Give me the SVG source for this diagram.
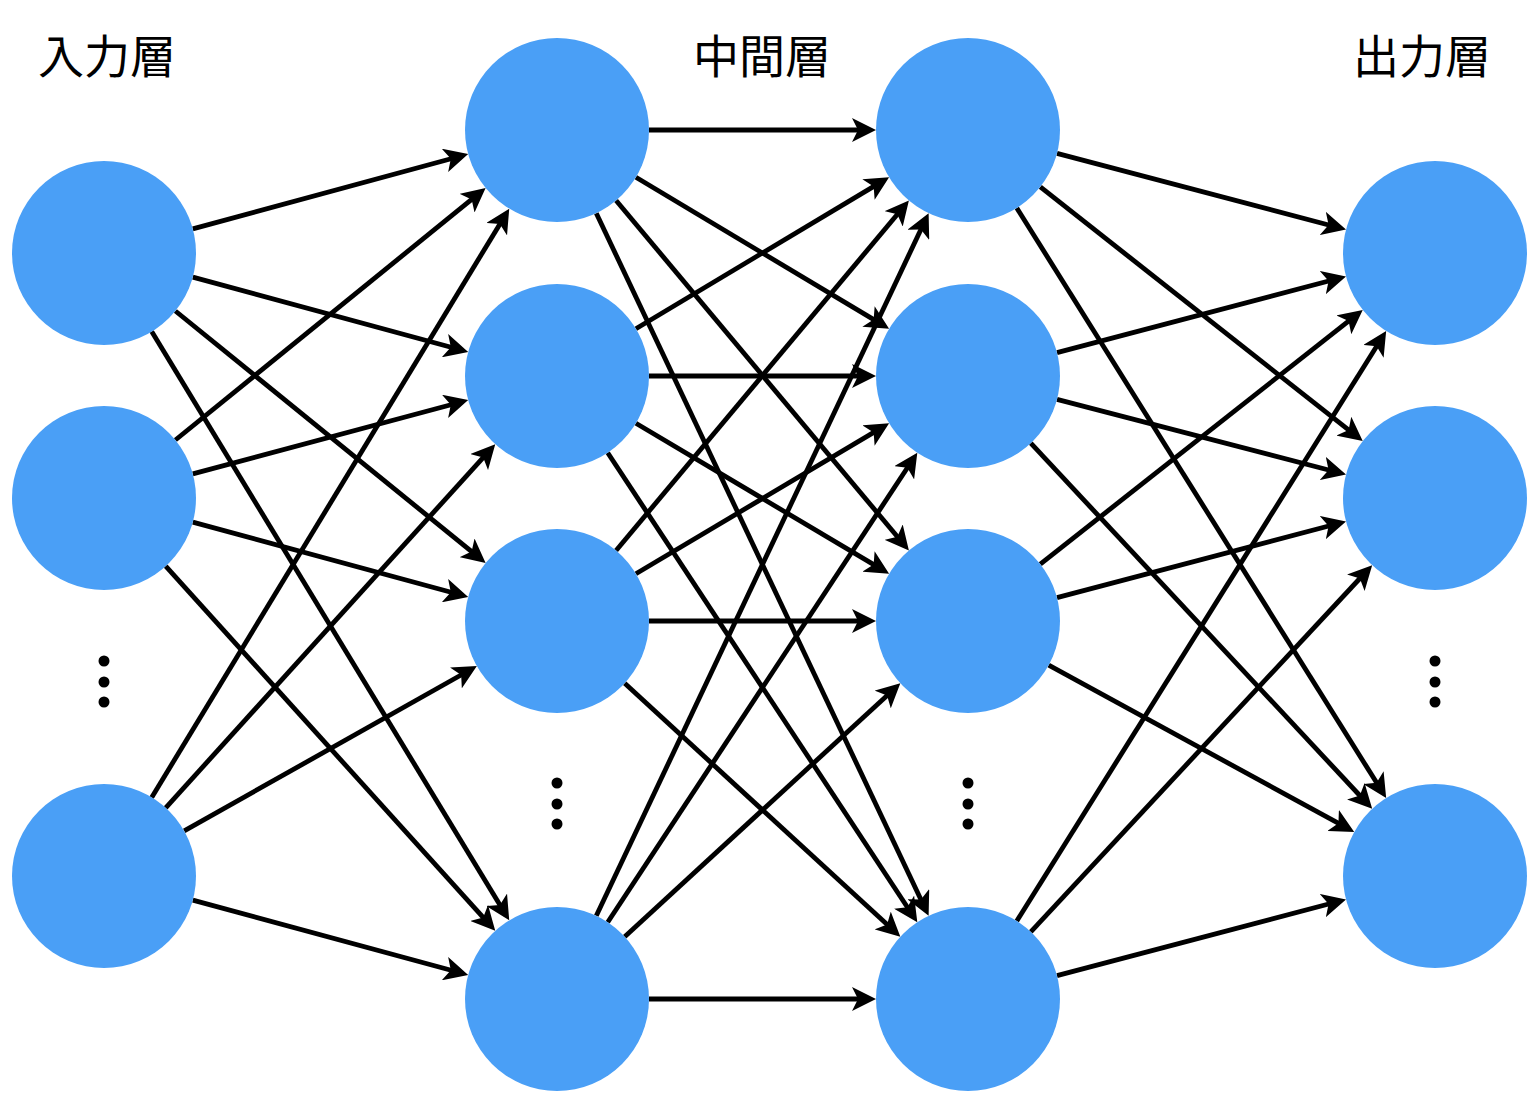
<svg xmlns="http://www.w3.org/2000/svg" width="1536" height="1096" viewBox="0 0 1536 1096">
<style>
.node{fill:#4A9FF6}
.lbl{font-family:"Noto Sans CJK JP","Noto Sans",sans-serif;font-size:46px;fill:#000;text-anchor:middle}
.e{stroke:#000;stroke-width:4.8;fill:none;marker-end:url(#ah)}
.dot{fill:#000}
</style>
<defs>
<marker id="ah" viewBox="0 0 24 24" refX="12" refY="12" markerWidth="24" markerHeight="24" markerUnits="userSpaceOnUse" orient="auto">
<path d="M0,0 L24,12 L0,24 L6,12 Z" fill="#000"/>
</marker>
</defs>
<rect width="1536" height="1096" fill="#fff"/>
<g id="labels">
<text class="lbl" x="107" y="73">入力層</text>
<text class="lbl" x="762" y="73">中間層</text>
<text class="lbl" x="1422" y="73">出力層</text>
</g>
<g id="connectors">
<line class="e" x1="192.8" y1="228.9" x2="456.6" y2="157.2"/>
<line class="e" x1="192.8" y1="277.1" x2="456.6" y2="348.8"/>
<line class="e" x1="175.4" y1="311.0" x2="476.3" y2="555.4"/>
<line class="e" x1="151.7" y1="331.6" x2="503.0" y2="910.1"/>
<line class="e" x1="175.4" y1="440.0" x2="476.3" y2="195.6"/>
<line class="e" x1="192.8" y1="473.9" x2="456.6" y2="403.2"/>
<line class="e" x1="192.8" y1="522.1" x2="456.6" y2="593.8"/>
<line class="e" x1="165.7" y1="566.2" x2="487.2" y2="921.9"/>
<line class="e" x1="151.7" y1="797.4" x2="503.0" y2="218.9"/>
<line class="e" x1="165.7" y1="807.8" x2="487.2" y2="453.1"/>
<line class="e" x1="184.2" y1="830.9" x2="466.4" y2="672.0"/>
<line class="e" x1="192.8" y1="900.1" x2="456.6" y2="971.8"/>

<line class="e" x1="649" y1="130" x2="864" y2="130"/>
<line class="e" x1="635.9" y1="177.3" x2="878.8" y2="322.6"/>
<line class="e" x1="616.1" y1="200.5" x2="901.2" y2="541.3"/>
<line class="e" x1="596.3" y1="213.2" x2="923.5" y2="905.0"/>
<line class="e" x1="635.9" y1="328.7" x2="878.8" y2="183.4"/>
<line class="e" x1="649" y1="376" x2="864" y2="376"/>
<line class="e" x1="635.9" y1="423.3" x2="878.8" y2="567.6"/>
<line class="e" x1="607.7" y1="452.8" x2="910.7" y2="912.2"/>
<line class="e" x1="616.1" y1="550.5" x2="901.2" y2="209.7"/>
<line class="e" x1="635.9" y1="573.7" x2="878.8" y2="429.4"/>
<line class="e" x1="649" y1="621" x2="864" y2="621"/>
<line class="e" x1="624.7" y1="683.3" x2="891.5" y2="928.6"/>
<line class="e" x1="596.3" y1="915.8" x2="923.5" y2="224.0"/>
<line class="e" x1="607.7" y1="922.2" x2="910.7" y2="462.8"/>
<line class="e" x1="624.7" y1="936.7" x2="891.5" y2="691.4"/>
<line class="e" x1="649" y1="999" x2="864" y2="999"/>

<line class="e" x1="1057" y1="153.4" x2="1334.4" y2="226.5"/>
<line class="e" x1="1040.3" y1="186.9" x2="1353.3" y2="433.6"/>
<line class="e" x1="1016.8" y1="208.0" x2="1379.8" y2="787.8"/>
<line class="e" x1="1057" y1="352.6" x2="1334.4" y2="279.5"/>
<line class="e" x1="1057" y1="399.4" x2="1334.4" y2="471.5"/>
<line class="e" x1="1030.8" y1="443.2" x2="1364.0" y2="800.0"/>
<line class="e" x1="1040.3" y1="564.1" x2="1353.3" y2="317.4"/>
<line class="e" x1="1057" y1="597.6" x2="1334.4" y2="524.5"/>
<line class="e" x1="1048.7" y1="665.1" x2="1343.7" y2="826.2"/>
<line class="e" x1="1016.8" y1="921.0" x2="1379.8" y2="341.2"/>
<line class="e" x1="1030.8" y1="931.8" x2="1364.0" y2="574.0"/>
<line class="e" x1="1057" y1="975.6" x2="1334.4" y2="902.5"/>
</g>
<g id="input-1"><circle class="node" cx="104" cy="253" r="92"/></g>
<g id="input-2"><circle class="node" cx="104" cy="498" r="92"/></g>
<g id="input-3"><circle class="node" cx="104" cy="876" r="92"/></g>
<g id="hidden1-1"><circle class="node" cx="557" cy="130" r="92"/></g>
<g id="hidden1-2"><circle class="node" cx="557" cy="376" r="92"/></g>
<g id="hidden1-3"><circle class="node" cx="557" cy="621" r="92"/></g>
<g id="hidden1-4"><circle class="node" cx="557" cy="999" r="92"/></g>
<g id="hidden2-1"><circle class="node" cx="968" cy="130" r="92"/></g>
<g id="hidden2-2"><circle class="node" cx="968" cy="376" r="92"/></g>
<g id="hidden2-3"><circle class="node" cx="968" cy="621" r="92"/></g>
<g id="hidden2-4"><circle class="node" cx="968" cy="999" r="92"/></g>
<g id="output-1"><circle class="node" cx="1435" cy="253" r="92"/></g>
<g id="output-2"><circle class="node" cx="1435" cy="498" r="92"/></g>
<g id="output-3"><circle class="node" cx="1435" cy="876" r="92"/></g>
<g id="ellipses">
<circle class="dot" cx="104" cy="661" r="5.5"/><circle class="dot" cx="104" cy="682" r="5.5"/><circle class="dot" cx="104" cy="702" r="5.5"/>
<circle class="dot" cx="557" cy="783" r="5.5"/><circle class="dot" cx="557" cy="804" r="5.5"/><circle class="dot" cx="557" cy="824" r="5.5"/>
<circle class="dot" cx="968" cy="783" r="5.5"/><circle class="dot" cx="968" cy="804" r="5.5"/><circle class="dot" cx="968" cy="824" r="5.5"/>
<circle class="dot" cx="1435" cy="661" r="5.5"/><circle class="dot" cx="1435" cy="682" r="5.5"/><circle class="dot" cx="1435" cy="702" r="5.5"/>
</g>
</svg>
